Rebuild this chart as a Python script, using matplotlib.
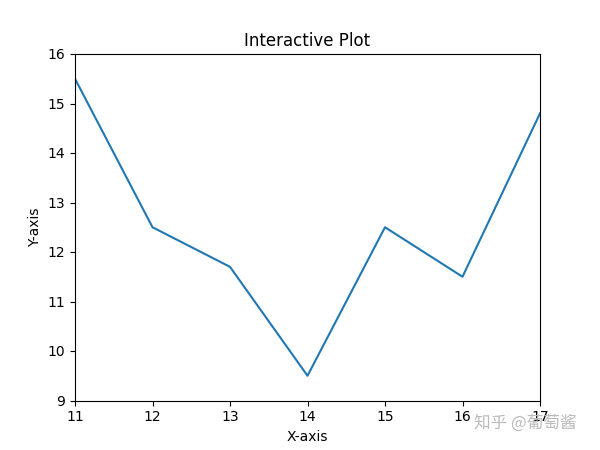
import matplotlib
matplotlib.use("Agg")
import matplotlib.pyplot as plt

x = [11, 12, 13, 14, 15, 16, 17]
y = [15.5, 12.5, 11.7, 9.5, 12.5, 11.5, 14.8]

fig, ax = plt.subplots(figsize=(6, 4.5), dpi=100)
fig.subplots_adjust(left=0.125, right=0.9, top=0.88, bottom=0.11)
ax.plot(x, y, color="#1f77b4")
ax.set_xlim(11, 17)
ax.set_ylim(9, 16)
ax.set_title("Interactive Plot")
ax.set_xlabel("X-axis")
ax.set_ylabel("Y-axis")
fig.text(0.79, 0.05, "知乎 @葡萄酱", color="#bbbbbb", fontsize=12,
         family=["Noto Sans CJK SC", "DejaVu Sans"])
fig.savefig("out.png")
